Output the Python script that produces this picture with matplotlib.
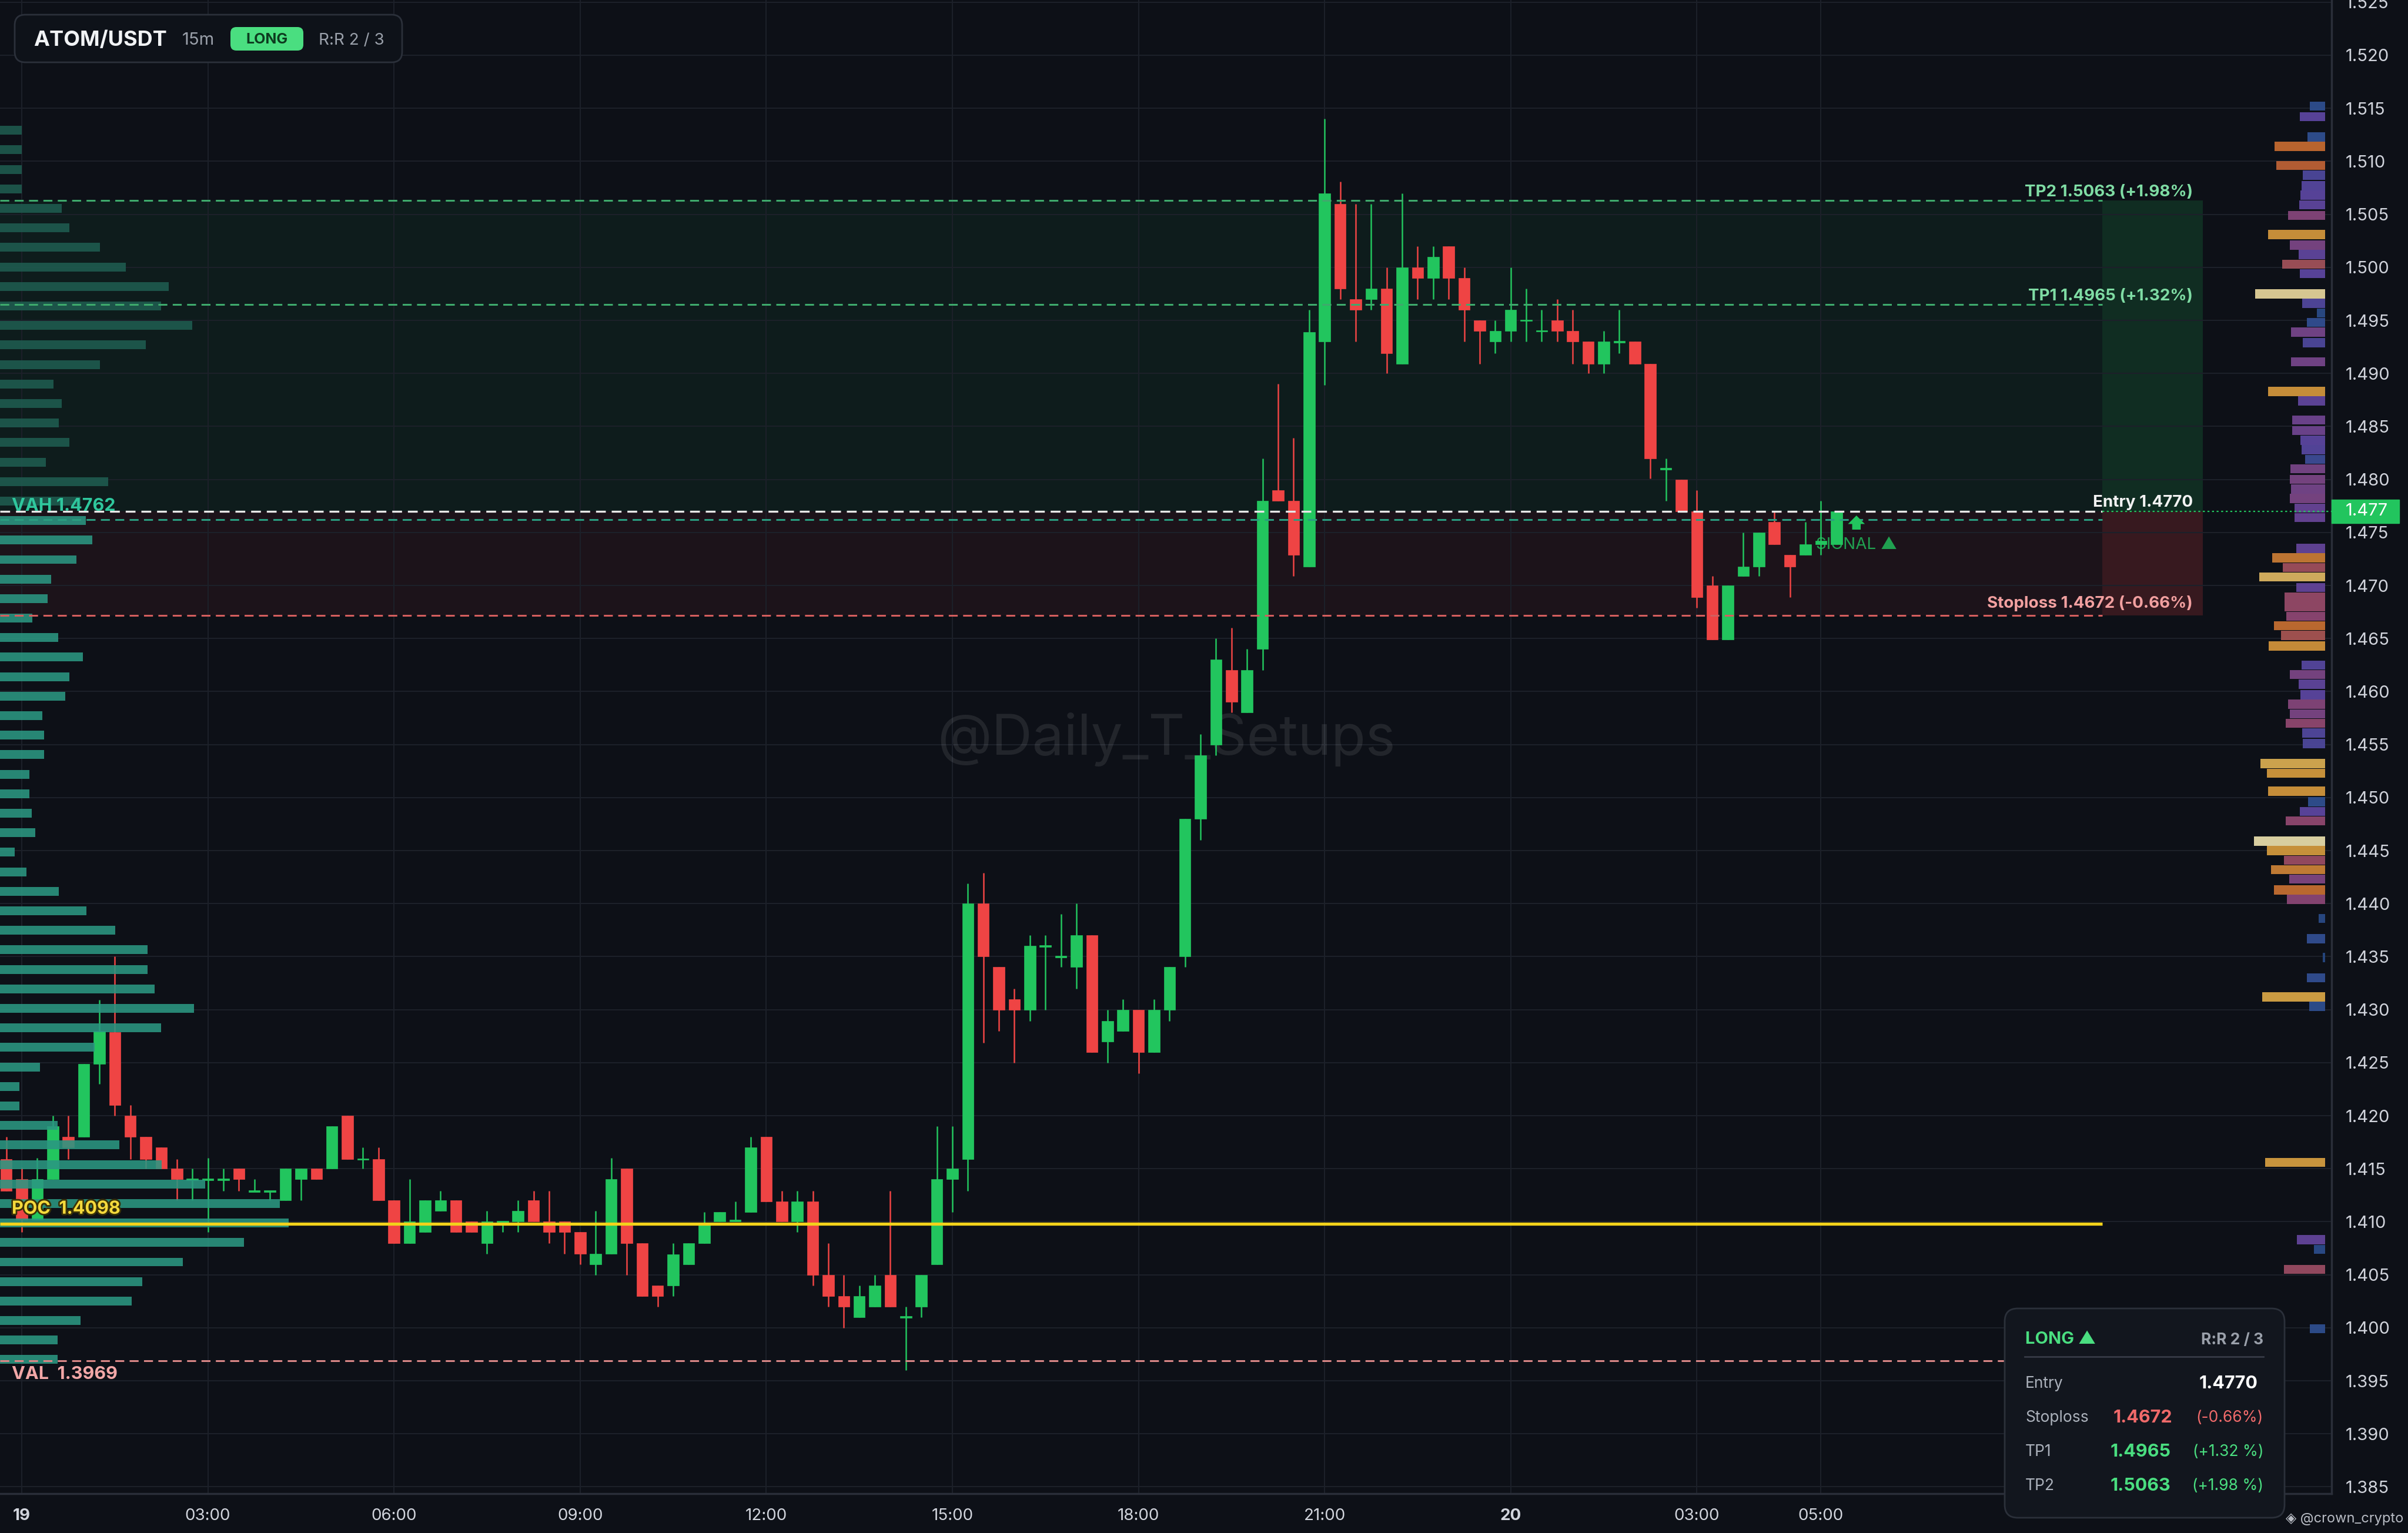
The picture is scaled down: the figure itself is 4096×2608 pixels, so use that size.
import numpy as np
import matplotlib
matplotlib.use("Agg")
import matplotlib.pyplot as plt
import matplotlib.patches as mpatches
import matplotlib.patheffects as pe
from matplotlib.colors import LinearSegmentedColormap, Normalize

plt.rcParams['font.family'] = ['Inter', 'DejaVu Sans']

# ---- candles (15m), first one at 18th 23:45 -> hours from 19th 00:00
start_hour = -0.25
step_hour = 0.25
opens = [1.4159, 1.4140, 1.4102, 1.4140, 1.4180, 1.4180, 1.4249, 1.4279, 1.4200, 1.4180,
         1.4170, 1.4150, 1.4140, 1.4140, 1.4140, 1.4150, 1.4129, 1.4129, 1.4120, 1.4140,
         1.4150, 1.4150, 1.4200, 1.4159, 1.4159, 1.4120, 1.4080, 1.4090, 1.4110, 1.4120,
         1.4100, 1.4080, 1.4100, 1.4100, 1.4120, 1.4100, 1.4100, 1.4090, 1.4060, 1.4070,
         1.4150, 1.4080, 1.4040, 1.4040, 1.4060, 1.4080, 1.4100, 1.4100, 1.4109, 1.4180,
         1.4119, 1.4100, 1.4119, 1.4050, 1.4030, 1.4010, 1.4020, 1.4050, 1.4010, 1.4020,
         1.4060, 1.4140, 1.4159, 1.4400, 1.4340, 1.4310, 1.4300, 1.4360, 1.4350, 1.4340,
         1.4370, 1.4270, 1.4280, 1.4300, 1.4260, 1.4300, 1.4350, 1.4480, 1.4550, 1.4620,
         1.4580, 1.4640, 1.4790, 1.4780, 1.4718, 1.4930, 1.5060, 1.4970, 1.4970, 1.4980,
         1.4909, 1.5000, 1.4990, 1.5020, 1.4990, 1.4950, 1.4930, 1.4940, 1.4950, 1.4940,
         1.4950, 1.4940, 1.4930, 1.4909, 1.4930, 1.4930, 1.4909, 1.4810, 1.4800, 1.4770,
         1.4700, 1.4649, 1.4709, 1.4718, 1.4760, 1.4729, 1.4729, 1.4739, 1.4739]
highs = [1.4180, 1.4151, 1.4160, 1.4200, 1.4200, 1.4249, 1.4309, 1.4350, 1.4210, 1.4180,
         1.4170, 1.4159, 1.4150, 1.4160, 1.4150, 1.4150, 1.4140, 1.4129, 1.4150, 1.4150,
         1.4150, 1.4190, 1.4200, 1.4170, 1.4170, 1.4120, 1.4140, 1.4120, 1.4129, 1.4120,
         1.4100, 1.4110, 1.4100, 1.4120, 1.4129, 1.4129, 1.4100, 1.4090, 1.4110, 1.4160,
         1.4150, 1.4080, 1.4040, 1.4080, 1.4080, 1.4109, 1.4109, 1.4119, 1.4180, 1.4180,
         1.4129, 1.4129, 1.4129, 1.4080, 1.4050, 1.4040, 1.4050, 1.4129, 1.4020, 1.4050,
         1.4190, 1.4190, 1.4419, 1.4429, 1.4340, 1.4320, 1.4370, 1.4370, 1.4390, 1.4400,
         1.4370, 1.4300, 1.4310, 1.4300, 1.4310, 1.4340, 1.4480, 1.4560, 1.4650, 1.4660,
         1.4640, 1.4820, 1.4890, 1.4839, 1.4960, 1.5140, 1.5081, 1.5060, 1.5060, 1.5000,
         1.5070, 1.5020, 1.5020, 1.5020, 1.5000, 1.4950, 1.4950, 1.5000, 1.4980, 1.4960,
         1.4970, 1.4960, 1.4930, 1.4940, 1.4960, 1.4930, 1.4909, 1.4820, 1.4800, 1.4790,
         1.4709, 1.4700, 1.4750, 1.4750, 1.4770, 1.4729, 1.4760, 1.4780, 1.4770]
lows = [1.4129, 1.4090, 1.4102, 1.4140, 1.4159, 1.4180, 1.4230, 1.4200, 1.4159, 1.4150,
        1.4150, 1.4120, 1.4120, 1.4090, 1.4129, 1.4129, 1.4129, 1.4120, 1.4120, 1.4120,
        1.4140, 1.4150, 1.4159, 1.4150, 1.4120, 1.4080, 1.4080, 1.4090, 1.4110, 1.4090,
        1.4090, 1.4070, 1.4090, 1.4090, 1.4100, 1.4080, 1.4070, 1.4060, 1.4050, 1.4070,
        1.4050, 1.4030, 1.4020, 1.4030, 1.4060, 1.4080, 1.4100, 1.4100, 1.4109, 1.4119,
        1.4100, 1.4090, 1.4040, 1.4020, 1.4000, 1.4010, 1.4020, 1.4020, 1.3960, 1.4010,
        1.4060, 1.4109, 1.4129, 1.4269, 1.4280, 1.4250, 1.4289, 1.4300, 1.4340, 1.4320,
        1.4260, 1.4250, 1.4280, 1.4240, 1.4260, 1.4289, 1.4340, 1.4460, 1.4540, 1.4580,
        1.4580, 1.4620, 1.4780, 1.4709, 1.4718, 1.4889, 1.4970, 1.4930, 1.4960, 1.4900,
        1.4909, 1.4970, 1.4970, 1.4970, 1.4930, 1.4909, 1.4919, 1.4930, 1.4930, 1.4930,
        1.4930, 1.4909, 1.4900, 1.4900, 1.4919, 1.4909, 1.4801, 1.4780, 1.4770, 1.4679,
        1.4649, 1.4649, 1.4709, 1.4709, 1.4739, 1.4689, 1.4729, 1.4729, 1.4739]
closes = [1.4129, 1.4102, 1.4140, 1.4190, 1.4170, 1.4249, 1.4280, 1.4210, 1.4180, 1.4159,
          1.4150, 1.4140, 1.4140, 1.4140, 1.4140, 1.4140, 1.4129, 1.4129, 1.4150, 1.4150,
          1.4140, 1.4190, 1.4159, 1.4159, 1.4120, 1.4080, 1.4100, 1.4120, 1.4120, 1.4090,
          1.4090, 1.4100, 1.4100, 1.4110, 1.4100, 1.4090, 1.4090, 1.4070, 1.4070, 1.4140,
          1.4080, 1.4030, 1.4030, 1.4069, 1.4080, 1.4098, 1.4109, 1.4102, 1.4170, 1.4119,
          1.4100, 1.4119, 1.4050, 1.4030, 1.4020, 1.4030, 1.4040, 1.4020, 1.4010, 1.4050,
          1.4140, 1.4150, 1.4400, 1.4350, 1.4300, 1.4300, 1.4360, 1.4360, 1.4350, 1.4370,
          1.4260, 1.4289, 1.4300, 1.4260, 1.4300, 1.4340, 1.4480, 1.4540, 1.4630, 1.4590,
          1.4620, 1.4780, 1.4780, 1.4729, 1.4939, 1.5070, 1.4980, 1.4960, 1.4980, 1.4919,
          1.5000, 1.4990, 1.5010, 1.4990, 1.4960, 1.4940, 1.4940, 1.4960, 1.4950, 1.4940,
          1.4940, 1.4930, 1.4909, 1.4930, 1.4930, 1.4909, 1.4820, 1.4810, 1.4770, 1.4689,
          1.4649, 1.4700, 1.4718, 1.4750, 1.4739, 1.4718, 1.4739, 1.4742, 1.4770]

# ---- left volume profile (session), bins of 0.00184 from 1.3970
lp_start = 1.3970
lp_step = 0.00184
lp_vol = [98, 98, 137, 224, 242, 311, 415, 491, 476, 349,
          275, 203, 98, 33, 33, 68, 161, 274, 330, 263,
          251, 251, 196, 147, 100, 45, 25, 60, 54, 50,
          50, 75, 75, 72, 111, 118, 141, 99, 55, 81,
          87, 130, 157, 146, 137, 184, 78, 118, 100, 105,
          91, 170, 248, 327, 274, 287, 214, 170, 118, 105,
          37, 37, 37, 37]
lp_value_area_top = 43  # bins above this index are outside the value area

# ---- right volume heatmap profile
rp_price = [1.5152, 1.5142, 1.5123, 1.5114, 1.5096, 1.5087, 1.5077, 1.5068, 1.5059, 1.5049,
            1.5031, 1.5021, 1.5012, 1.5003, 1.4994, 1.4975, 1.4966, 1.4957, 1.4948, 1.4939,
            1.4929, 1.4911, 1.4883, 1.4874, 1.4856, 1.4846, 1.4837, 1.4828, 1.4819, 1.4810,
            1.4800, 1.4791, 1.4782, 1.4773, 1.4764, 1.4735, 1.4726, 1.4717, 1.4708, 1.4698,
            1.4689, 1.4680, 1.4671, 1.4662, 1.4653, 1.4643, 1.4625, 1.4616, 1.4607, 1.4597,
            1.4588, 1.4579, 1.4570, 1.4561, 1.4551, 1.4532, 1.4523, 1.4506, 1.4496, 1.4487,
            1.4478, 1.4459, 1.4450, 1.4441, 1.4432, 1.4423, 1.4413, 1.4404, 1.4386, 1.4367,
            1.4349, 1.4330, 1.4312, 1.4303, 1.4156, 1.4083, 1.4074, 1.4055, 1.3999]
rp_vol = [26, 43, 30, 86, 83, 38, 40, 42, 44, 63,
          97, 60, 45, 73, 43, 119, 39, 14, 31, 58,
          38, 58, 97, 46, 56, 56, 42, 40, 34, 59,
          60, 58, 60, 52, 52, 49, 90, 72, 112, 49,
          69, 69, 66, 87, 75, 96, 40, 60, 45, 42,
          63, 60, 67, 39, 38, 110, 99, 97, 29, 43,
          67, 121, 99, 70, 92, 61, 87, 65, 11, 31,
          4, 31, 107, 27, 102, 48, 19, 70, 26]

# ---- trade levels
entry = 1.4770
stoploss = 1.4672
tp1 = 1.4965
tp2 = 1.5063
vah = 1.4762
poc = 1.4098
val = 1.3969
tp1_pct = 1.32
tp2_pct = 1.98
sl_pct = -0.66
level_end_hour = 33.54
zone_end_hour = 35.16

# ---- axes labels
xtick_hours = [0, 3, 6, 9, 12, 15, 18, 21, 24, 27, 29]
xtick_labels = ['19', '03:00', '06:00', '09:00', '12:00', '15:00', '18:00',
                '21:00', '20', '03:00', '05:00']
ytick_prices = np.round(np.arange(1.385, 1.5251, 0.005), 3)

BG = '#0d1017'
GRID = '#1c2029'
GREEN = '#22c55e'
RED = '#ef4444'
TXT = '#d1d4dc'

W, H = 4096, 2608
plot_w, plot_h = 3966, 2541
px_per_hour = 105.53
x_left = -37 / px_per_hour
x_right = (plot_w - 37) / px_per_hour
y_lo, y_hi = 1.38436, 1.52521
rect = [0, (H - plot_h) / H, plot_w / W, plot_h / H]

fig = plt.figure(figsize=(W / 100, H / 100), dpi=100)
fig.patch.set_facecolor(BG)

ax = fig.add_axes(rect)
ax.set_facecolor(BG)
ax.set_xlim(x_left, x_right)
ax.set_ylim(y_lo, y_hi)

ax.set_xticks(xtick_hours)
ax.set_xticklabels(xtick_labels)
ax.set_yticks(ytick_prices)
ax.set_yticklabels(['%.3f' % p for p in ytick_prices])
ax.yaxis.tick_right()
ax.tick_params(axis='y', length=0, pad=17, labelsize=21, labelcolor=TXT)
ax.tick_params(axis='x', length=0, pad=18, labelsize=20, labelcolor=TXT)
for lbl in ax.get_xticklabels():
    if lbl.get_text() in ('19', '20'):
        lbl.set_fontweight('bold')
ax.grid(True, color=GRID, lw=1.5, zorder=0)
ax.set_axisbelow(True)
for s in ['top', 'left']:
    ax.spines[s].set_visible(False)
for s in ['right', 'bottom']:
    ax.spines[s].set_color('#2a2e39')
    ax.spines[s].set_linewidth(2.5)

# zones
ax.fill_between([x_left, level_end_hour], entry, tp2, color=GREEN, alpha=0.07, lw=0, zorder=0.5)
ax.fill_between([level_end_hour, zone_end_hour], entry, tp2, color=GREEN, alpha=0.16, lw=0, zorder=0.5)
ax.fill_between([x_left, level_end_hour], stoploss, entry, color=RED, alpha=0.07, lw=0, zorder=0.5)
ax.fill_between([level_end_hour, zone_end_hour], stoploss, entry, color=RED, alpha=0.19, lw=0, zorder=0.5)

# watermark
ax.text(18.45, 1.4555, '@Daily_T_Setups', color='white', alpha=0.09, fontsize=69,
        ha='center', va='center', zorder=1)

# candles
o = np.array(opens)
h = np.array(highs)
l = np.array(lows)
c = np.array(closes)
t = start_hour + step_hour * np.arange(len(o))
up = c >= o
cols = np.where(up, GREEN, RED)
body_lo = np.minimum(o, c)
body_h = np.maximum(np.abs(c - o), 0.00016)
ax.vlines(t, l, h, colors=cols, lw=1.8, zorder=2.9)
ax.bar(t, body_h, bottom=body_lo - np.where(np.abs(c - o) < 0.00016, 0.00008, 0),
       width=0.185, color=cols, edgecolor=cols, lw=0.5, zorder=3)

# left volume profile
axl = fig.add_axes(rect, zorder=2)
axl.set_xlim(0, plot_w)
axl.set_ylim(y_lo, y_hi)
axl.axis('off')
lp_bins = lp_start + lp_step * np.arange(len(lp_vol))
lp_cols = ['#2b9782' if j <= lp_value_area_top else '#1f5c50' for j in range(len(lp_vol))]
axl.barh(lp_bins, lp_vol, height=0.00083, color=lp_cols, alpha=0.88, lw=0)

# right volume heatmap profile
axr = fig.add_axes([(3955 - 300) / W, rect[1], 300 / W, rect[3]], zorder=2)
axr.set_xlim(300, 0)
axr.set_ylim(y_lo, y_hi)
axr.axis('off')
heat = LinearSegmentedColormap.from_list('heat', [
    (0.0, '#25477f'), (0.25, '#2f4f90'), (0.34, '#5a45a0'), (0.45, '#6a4494'),
    (0.55, '#8f4670'), (0.70, '#c0642f'), (0.80, '#d0943a'), (0.90, '#d6a647'),
    (1.0, '#e4d9a8')])
norm = Normalize(0, max(rp_vol))
axr.barh(rp_price, rp_vol, height=0.00086, color=heat(norm(np.array(rp_vol))), lw=0, alpha=0.95)

# levels and labels on top
axt = fig.add_axes(rect, zorder=3)
axt.set_xlim(x_left, x_right)
axt.set_ylim(y_lo, y_hi)
axt.axis('off')

dash = (0, (5, 3))
axt.hlines(tp2, x_left, level_end_hour, colors='#3eaa6c', lw=2.2, linestyles=dash)
axt.hlines(tp1, x_left, level_end_hour, colors='#3eaa6c', lw=2.2, linestyles=dash)
axt.hlines(stoploss, x_left, level_end_hour, colors='#d45e5e', lw=2.2, linestyles=dash)
axt.hlines(vah, x_left, level_end_hour, colors='#2a9d80', lw=2.2, linestyles=dash)
axt.hlines(val, x_left, level_end_hour, colors='#d98686', lw=2.2, linestyles=dash)
axt.hlines(entry, x_left, level_end_hour, colors='#e8e8e8', lw=2.4, linestyles=dash)
axt.hlines(entry, level_end_hour, x_right, colors=GREEN, lw=1.6, linestyles=(0, (1.5, 2)))
axt.hlines(poc, x_left, level_end_hour, colors='#f2d21b', lw=3.8)

lab_x = (3730 - 37) / px_per_hour
axt.text(lab_x, tp2 + 0.0008, 'TP2 %.4f (+%.2f%%)' % (tp2, tp2_pct), color='#7fdca4',
         fontsize=20, fontweight='bold', ha='right', va='center')
axt.text(lab_x, tp1 + 0.0008, 'TP1 %.4f (+%.2f%%)' % (tp1, tp1_pct), color='#7fdca4',
         fontsize=20, fontweight='bold', ha='right', va='center')
axt.text(lab_x, entry + 0.0008, 'Entry %.4f' % entry, color='#f2f2f2',
         fontsize=20, fontweight='bold', ha='right', va='center')
axt.text(lab_x, stoploss + 0.0011, 'Stoploss %.4f (%.2f%%)' % (stoploss, sl_pct), color='#f2a0a0',
         fontsize=20, fontweight='bold', ha='right', va='center')

left_x = (20 - 37) / px_per_hour
axt.text(left_x, vah + 0.0013, 'VAH %.4f' % vah, color='#2fc79d', fontsize=22,
         fontweight='bold', ha='left', va='center')
axt.text(left_x, poc + 0.0014, 'POC  %.4f' % poc, color='#f4d93c', fontsize=22,
         fontweight='bold', ha='left', va='center',
         path_effects=[pe.withStroke(linewidth=4, foreground='#3a3208')])
axt.text(left_x, val - 0.0013, 'VAL  %.4f' % val, color='#f2a7a7', fontsize=22,
         fontweight='bold', ha='left', va='center')

# signal marker next to last candle
axt.text(t[-1] + 0.32, entry - 0.0013, '\u2b06', color=GREEN, fontsize=22,
         ha='center', va='center', fontweight='bold')
axt.text(t[-1] - 0.33, entry - 0.0032, 'SIGNAL \u25b2', color=GREEN, alpha=0.8, fontsize=20,
         ha='left', va='center')

# current price tag on the axis
axt.add_patch(mpatches.Rectangle((1.0, entry - 0.0011), 115 / plot_w, 0.0022,
                                 transform=axt.get_yaxis_transform(), color=GREEN,
                                 clip_on=False, zorder=5))
axt.text(1.0 + 24 / plot_w, entry, '%.3f' % entry, transform=axt.get_yaxis_transform(),
         color='white', fontsize=21, ha='left', va='center', clip_on=False, zorder=6)

# overlay in pixel coordinates for the info boxes
ov = fig.add_axes([0, 0, 1, 1], zorder=4)
ov.set_xlim(0, W)
ov.set_ylim(H, 0)
ov.axis('off')

ov.add_patch(mpatches.FancyBboxPatch((25, 25), 659, 81, boxstyle='round,pad=0,rounding_size=18',
                                     fc='#0e1219', ec='#2b303a', lw=2))
ov.text(57, 69, 'ATOM/USDT', color='#f1f3f5', fontsize=26, fontweight='bold', va='center')
ov.text(310, 69, '15m', color='#9aa0aa', fontsize=21, va='center')
ov.add_patch(mpatches.FancyBboxPatch((392, 46), 124, 40, boxstyle='round,pad=0,rounding_size=10',
                                     fc='#4ade80', ec='none'))
ov.text(454, 67, 'LONG', color='#0d3b1f', fontsize=18, fontweight='bold', ha='center', va='center')
ov.text(542, 69, 'R:R 2 / 3', color='#9aa0aa', fontsize=20, va='center')

ov.add_patch(mpatches.FancyBboxPatch((3410, 2226), 476, 356, boxstyle='round,pad=0,rounding_size=22',
                                     fc='#12161e', ec='#2b303a', lw=2))
ov.text(3445, 2278, 'LONG \u25b2', color='#4ade80', fontsize=21, fontweight='bold', va='center')
ov.text(3850, 2280, 'R:R 2 / 3', color='#9aa0aa', fontsize=19, fontweight='bold', ha='right', va='center')
ov.plot([3444, 3850], [2308, 2308], color='#363b46', lw=2)
rows = [('Entry', 2354), ('Stoploss', 2412), ('TP1', 2470), ('TP2', 2528)]
for name, yy in rows:
    ov.text(3445, yy, name, color='#aab0ba', fontsize=19, va='center')
ov.text(3840, 2354, '%.4f' % entry, color='white', fontsize=22, fontweight='bold', ha='right', va='center')
ov.text(3595, 2412, '%.4f' % stoploss, color='#f06a6a', fontsize=22, fontweight='bold', va='center')
ov.text(3850, 2412, '(%.2f%%)' % sl_pct, color='#f06a6a', fontsize=19, ha='right', va='center')
ov.text(3590, 2470, '%.4f' % tp1, color='#4ade80', fontsize=22, fontweight='bold', va='center')
ov.text(3850, 2470, '(+%.2f %%)' % tp1_pct, color='#4ade80', fontsize=19, ha='right', va='center')
ov.text(3590, 2528, '%.4f' % tp2, color='#4ade80', fontsize=22, fontweight='bold', va='center')
ov.text(3850, 2528, '(+%.2f %%)' % tp2_pct, color='#4ade80', fontsize=19, ha='right', va='center')

ov.text(4088, 2584, '\u25c8 @crown_crypto', color='#b8bcc4', fontsize=17, ha='right', va='center')

fig.savefig('out.png', dpi=100, facecolor=BG)
